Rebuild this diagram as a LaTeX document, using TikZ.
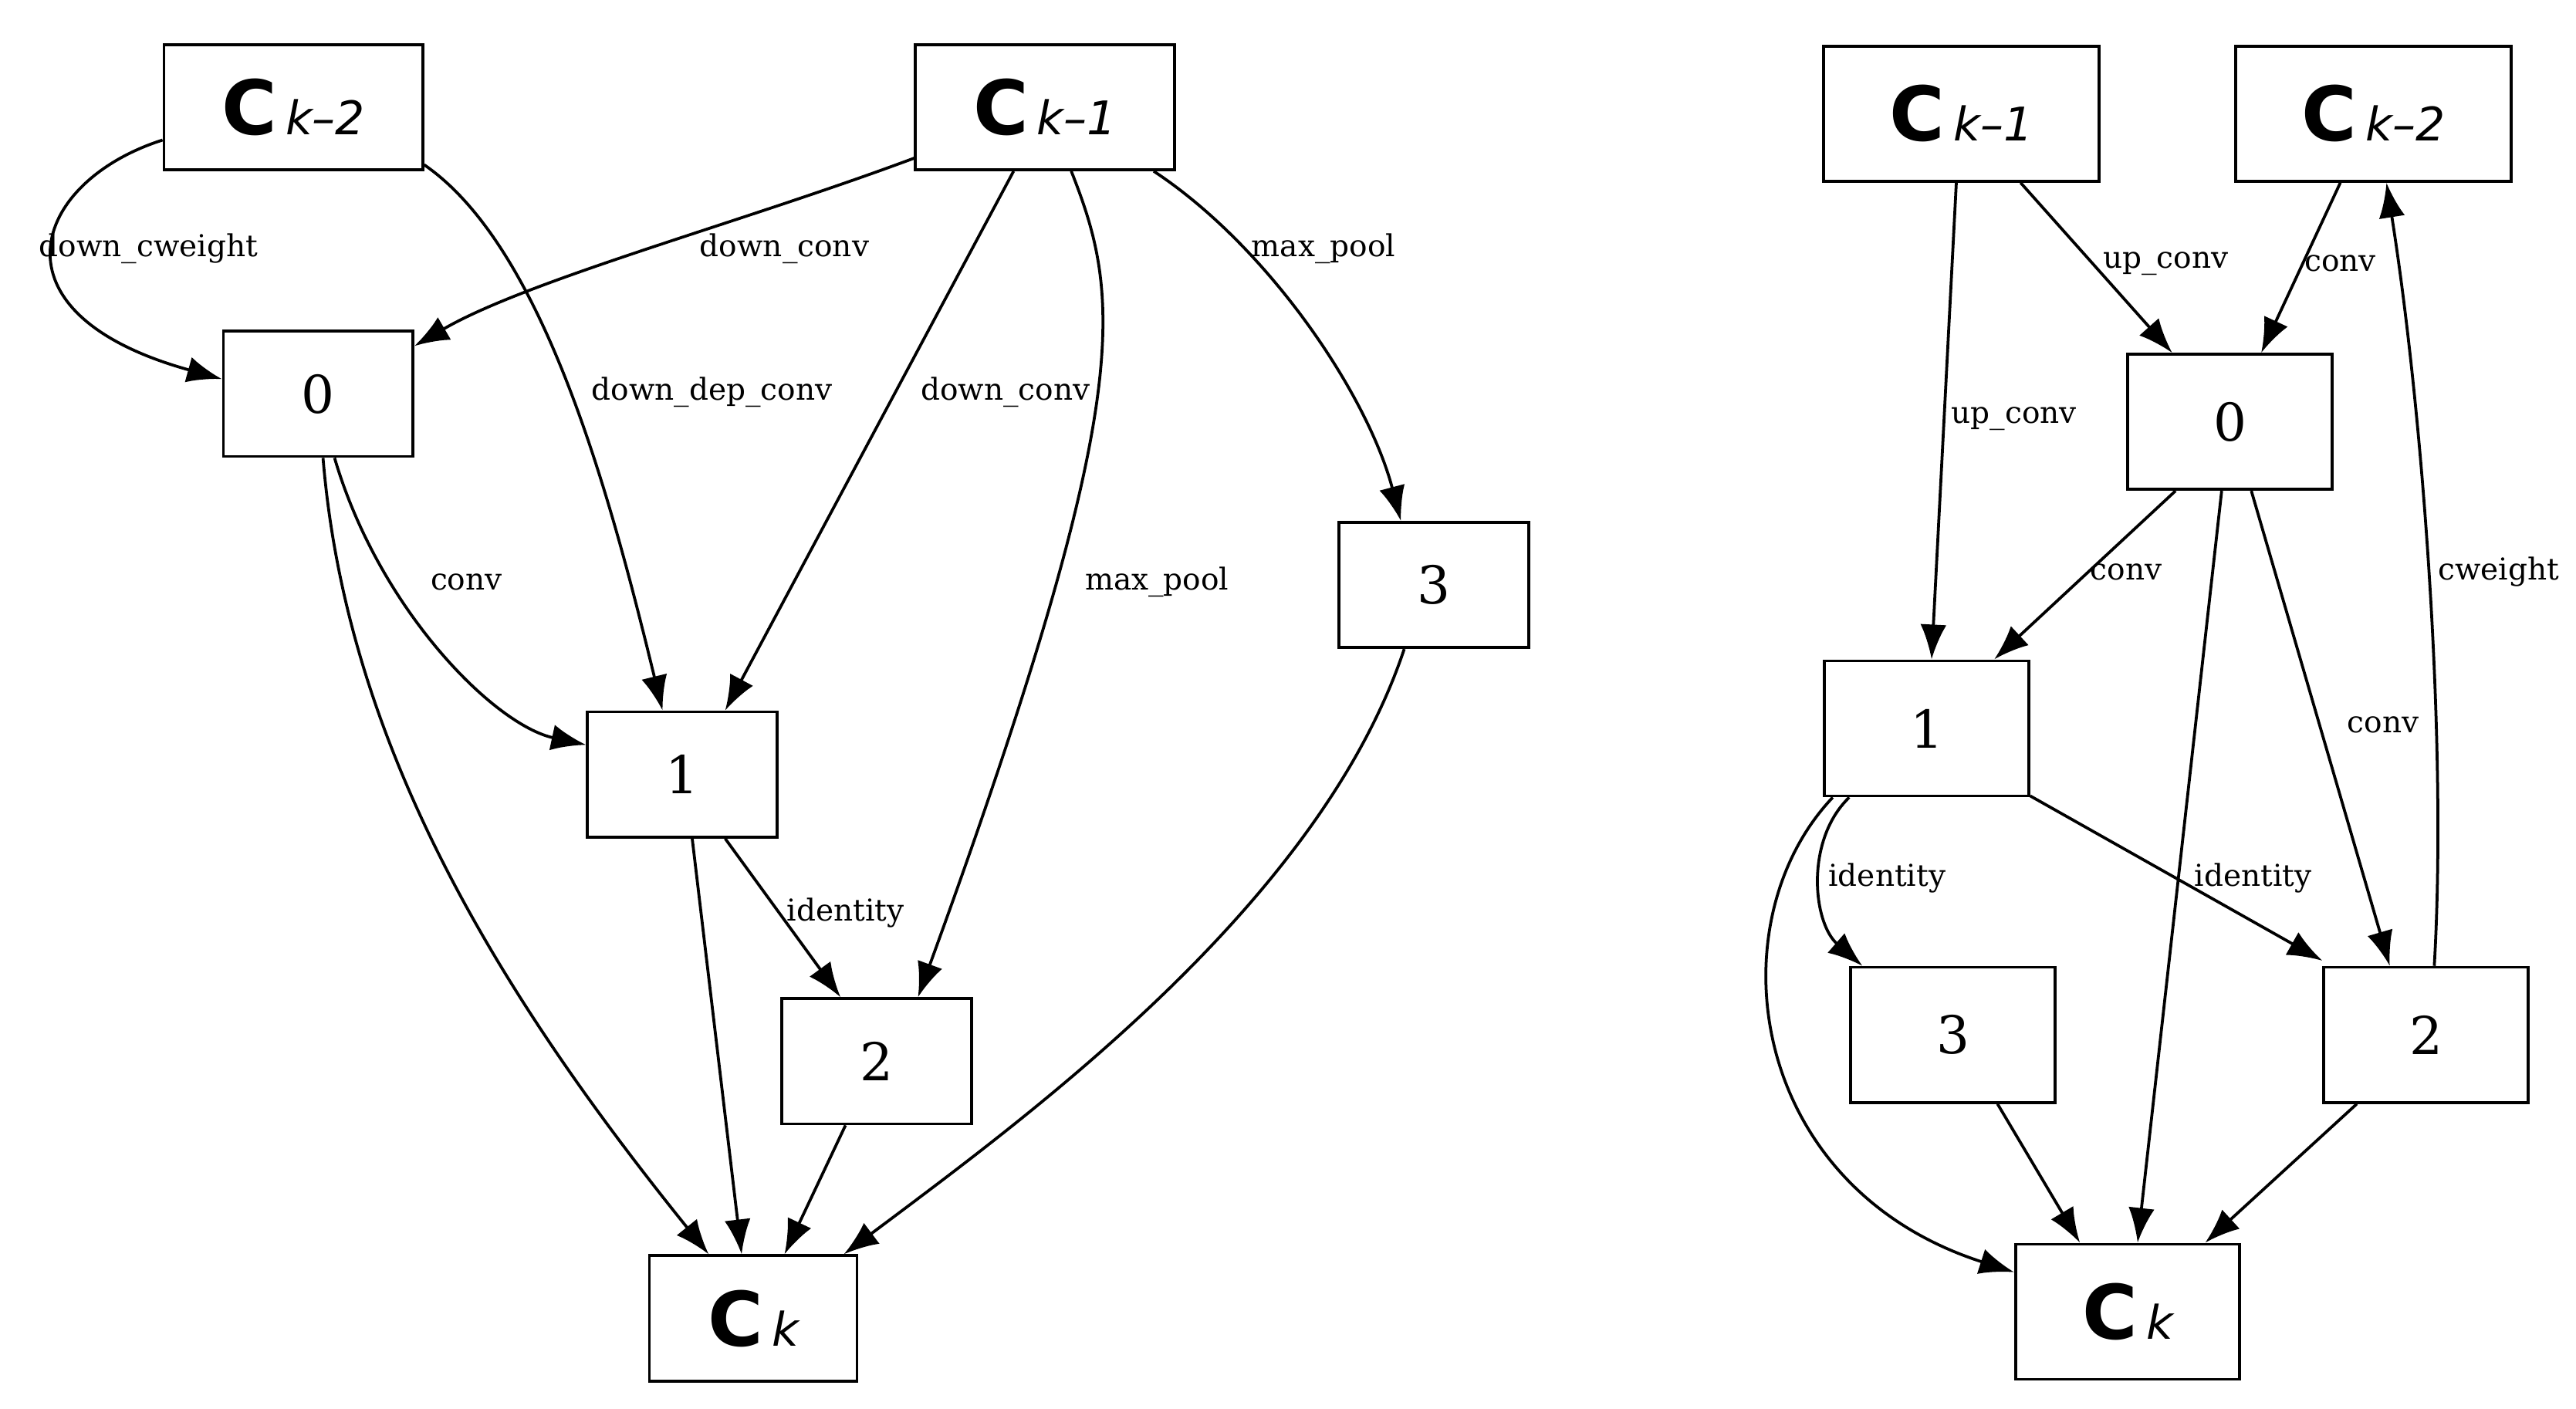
\documentclass[tikz,border=0pt]{standalone}
\usepackage{fontspec}
\setmainfont{DejaVu Serif}
\newfontfamily\csans{DejaVu Sans}
\usetikzlibrary{arrows.meta}
\begin{document}
\begin{tikzpicture}[x=0.01cm,y=-0.01cm,
  box/.style={draw,line width=0.5pt,inner sep=0pt,font=\fontsize{9}{10}\selectfont},
  edge/.style={line width=0.5pt,-{Latex[length=6pt,width=4.5pt]}},
  lab/.style={font=\fontsize{5.2}{6}\selectfont,inner sep=1pt,fill=white,fill opacity=0,text opacity=1}]
\useasboundingbox (0,0) rectangle (1563,855);
\newcommand{\CC}[1]{{\csans\bfseries\fontsize{13}{14}\selectfont C}\,{\csans\itshape\fontsize{8}{9}\selectfont #1}}
% left
\node[box,minimum width=157*0.01cm,minimum height=76*0.01cm] (Lk2) at (178,65) {\CC{k\textendash2}};
\node[box,minimum width=157*0.01cm,minimum height=76*0.01cm] (Lk1) at (634,65) {\CC{k\textendash1}};
\node[box,minimum width=115*0.01cm,minimum height=76*0.01cm] (L0) at (193,239) {0};
\node[box,minimum width=115*0.01cm,minimum height=76*0.01cm] (L1) at (414,470) {1};
\node[box,minimum width=115*0.01cm,minimum height=76*0.01cm] (L3) at (870,355) {3};
\node[box,minimum width=115*0.01cm,minimum height=76*0.01cm] (L2) at (532,644) {2};
\node[box,minimum width=126*0.01cm,minimum height=76*0.01cm] (Lk) at (457,800) {\CC{k}};
\coordinate (aL1) at (20,150);
\draw[edge] (Lk2.west |- 0,85) .. controls (20,110) and (-10,190) .. (L0.west |- 0,230);
\node[lab] at (90,151) {down\_cweight};
\draw[edge] (Lk2.east |- 0,100) .. controls (330,150) and (370,300) .. (L1.north -| 402,0);
\node[lab] at (432,238) {down\_dep\_conv};
\draw[edge] (Lk1.west |- 0,96) .. controls (450,135) and (320,170) .. (L0.east |- 0,210);
\node[lab] at (476,151) {down\_conv};
\draw[edge] (Lk1.south -| 615,0) -- (L1.north -| 440,0);
\node[lab] at (610,238) {down\_conv};
\draw[edge] (Lk1.south -| 650,0) .. controls (680,180) and (690,240) .. (L2.north -| 557,0);
\node[lab] at (702,353) {max\_pool};
\draw[edge] (Lk1.south -| 700,0) .. controls (770,150) and (830,240) .. (L3.north -| 850,0);
\node[lab] at (803,151) {max\_pool};
\draw[edge] (L0.south -| 203,0) .. controls (230,370) and (300,440) .. (L1.west |- 0,452);
\node[lab] at (283,353) {conv};
\draw[edge] (L0.south -| 196,0) .. controls (210,450) and (300,600) .. (Lk.north -| 430,0);
\draw[edge] (L1.south -| 420,0) -- (Lk.north -| 450,0);
\draw[edge] (L1.south -| 440,0) -- (L2.north -| 510,0);
\node[lab] at (513,554) {identity};
\draw[edge] (L2.south -| 513,0) -- (Lk.north -| 476,0);
\draw[edge] (L3.south -| 852,0) .. controls (800,550) and (620,680) .. (Lk.north -| 512,0);
% right
\node[box,minimum width=167*0.01cm,minimum height=82*0.01cm] (Rk1) at (1190,69) {\CC{k\textendash1}};
\node[box,minimum width=167*0.01cm,minimum height=82*0.01cm] (Rk2) at (1440,69) {\CC{k\textendash2}};
\node[box,minimum width=124*0.01cm,minimum height=82*0.01cm] (R0) at (1353,256) {0};
\node[box,minimum width=124*0.01cm,minimum height=82*0.01cm] (R1) at (1169,442) {1};
\node[box,minimum width=124*0.01cm,minimum height=82*0.01cm] (R3) at (1185,628) {3};
\node[box,minimum width=124*0.01cm,minimum height=82*0.01cm] (R2) at (1472,628) {2};
\node[box,minimum width=136*0.01cm,minimum height=82*0.01cm] (Rk) at (1291,796) {\CC{k}};
\draw[edge] (Rk1.south -| 1226,0) -- (R0.north -| 1318,0);
\node[lab] at (1314,160) {up\_conv};
\draw[edge] (Rk1.south -| 1187,0) -- (R1.north -| 1172,0);
\node[lab] at (1222,254) {up\_conv};
\draw[edge] (Rk2.south -| 1420,0) -- (R0.north -| 1372,0);
\node[lab] at (1420,160) {conv};
\draw[edge] (R2.north -| 1477,0) .. controls (1485,450) and (1470,250) .. (Rk2.south -| 1448,0);
\node[lab] at (1516,347) {cweight};
\draw[edge] (R0.south -| 1320,0) -- (R1.north -| 1210,0);
\node[lab] at (1290,347) {conv};
\draw[edge] (R0.south -| 1348,0) -- (Rk.north -| 1297,0);
\draw[edge] (R0.south -| 1366,0) -- (R2.north -| 1450,0);
\node[lab] at (1446,440) {conv};
\draw[edge] (R1.south -| 1122,0) .. controls (1095,510) and (1100,560) .. (R3.north -| 1130,0);
\node[lab] at (1145,533) {identity};
\draw[edge] (R1.east |- 0,483) -- (R2.west |- 0,583);
\node[lab] at (1367,533) {identity};
\draw[edge] (R1.south -| 1112,0) .. controls (1040,560) and (1060,720) .. (Rk.west |- 0,772);
\draw[edge] (R3.south -| 1212,0) -- (Rk.north -| 1262,0);
\draw[edge] (R2.south -| 1430,0) -- (Rk.north -| 1338,0);
\end{tikzpicture}
\end{document}
